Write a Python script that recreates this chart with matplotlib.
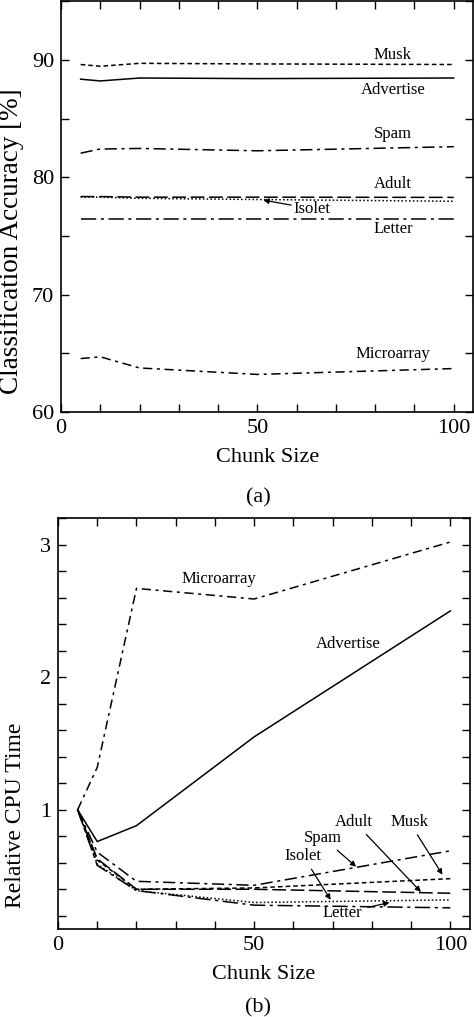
import matplotlib
matplotlib.use("Agg")
import matplotlib.pyplot as plt
from matplotlib.ticker import MultipleLocator

plt.rcParams['font.family'] = ['Liberation Serif', 'DejaVu Serif']
plt.rcParams['mathtext.fontset'] = 'stix'

chunk = [5, 10, 20, 50, 100]

# (a) classification accuracy [%]
accMusk = [89.6, 89.45, 89.7, 89.65, 89.6]
accAdvertise = [88.35, 88.2, 88.45, 88.4, 88.45]
accSpam = [82.05, 82.4, 82.45, 82.25, 82.6]
accAdult = [78.35, 78.35, 78.3, 78.3, 78.28]
accIsolet = [78.3, 78.3, 78.2, 78.1, 77.95]
accLetter = [76.45, 76.45, 76.45, 76.45, 76.45]
accMicroarray = [64.55, 64.7, 63.75, 63.2, 63.7]

# (b) relative CPU time
cpuMicroarray = [1.0, 1.32, 2.67, 2.59, 3.02]
cpuAdvertise = [1.0, 0.76, 0.88, 1.55, 2.50]
cpuSpam = [1.0, 0.68, 0.46, 0.43, 0.69]
cpuMusk = [1.0, 0.62, 0.40, 0.41, 0.48]
cpuAdult = [1.0, 0.63, 0.40, 0.40, 0.37]
cpuIsolet = [1.0, 0.59, 0.39, 0.30, 0.32]
cpuLetter = [1.0, 0.58, 0.39, 0.28, 0.26]

styles = {
    'Musk': (0, (3, 2)),
    'Advertise': '-',
    'Spam': (0, (8, 3, 2, 3)),
    'Adult': (0, (9, 3)),
    'Isolet': (0, (1, 1.5)),
    'Letter': (0, (10, 3, 2, 3)),
    'Microarray': (0, (6, 3, 2, 3)),
}

fig = plt.figure(figsize=(4.74, 10.17), dpi=100)
axA = fig.add_axes([0.1287, 0.5949, 0.870, 0.404])
axB = fig.add_axes([0.1224, 0.0865, 0.869, 0.404])


def styleAxis(ax):
    ax.set_xlim(0, 105)
    ax.xaxis.set_major_locator(MultipleLocator(50))
    ax.xaxis.set_minor_locator(MultipleLocator(10))
    ax.tick_params(which='both', direction='in', top=True, right=True,
                   labelsize=16, width=1.0)
    ax.tick_params(which='major', length=6, pad=5)
    ax.tick_params(which='minor', length=6)
    for s in ax.spines.values():
        s.set_linewidth(1.2)
    ax.set_xlabel('Chunk Size', fontsize=16, labelpad=7)


# ---- (a)
for name, vals in [('Musk', accMusk), ('Advertise', accAdvertise), ('Spam', accSpam),
                   ('Adult', accAdult), ('Isolet', accIsolet), ('Letter', accLetter),
                   ('Microarray', accMicroarray)]:
    axA.plot(chunk, vals, color='black', lw=1.1, linestyle=styles[name])

axA.set_ylim(60, 95)
axA.yaxis.set_major_locator(MultipleLocator(10))
axA.yaxis.set_minor_locator(MultipleLocator(5))
styleAxis(axA)
axA.set_ylabel('Classification Accuracy [%]', fontsize=19.5)
axA.yaxis.set_label_coords(-0.09, 0.416)

fs = 12
axA.text(84.5, 90.4, 'Musk', fontsize=fs, ha='center', va='center')
axA.text(84.5, 87.4, 'Advertise', fontsize=fs, ha='center', va='center')
axA.text(84.5, 83.7, 'Spam', fontsize=fs, ha='center', va='center')
axA.text(84.5, 79.4, 'Adult', fontsize=fs, ha='center', va='center')
axA.annotate('Isolet', xy=(51.5, 78.05), xytext=(64, 77.3), fontsize=fs,
             ha='center', va='center',
             arrowprops=dict(arrowstyle='-|>', color='black', lw=0.9,
                             shrinkA=0, shrinkB=0, mutation_scale=8))
axA.text(84.5, 75.6, 'Letter', fontsize=fs, ha='center', va='center')
axA.text(84.5, 64.9, 'Microarray', fontsize=fs, ha='center', va='center')
fig.text(0.545, 0.510, '(a)', fontsize=16, ha='center', va='center')

# ---- (b)
for name, vals in [('Microarray', cpuMicroarray), ('Advertise', cpuAdvertise),
                   ('Spam', cpuSpam), ('Musk', cpuMusk), ('Adult', cpuAdult),
                   ('Isolet', cpuIsolet), ('Letter', cpuLetter)]:
    axB.plot(chunk, vals, color='black', lw=1.1, linestyle=styles[name])

axB.set_ylim(0.1, 3.2)
axB.yaxis.set_major_locator(MultipleLocator(1))
axB.yaxis.set_minor_locator(MultipleLocator(0.2))
styleAxis(axB)
axB.set_ylabel('Relative CPU Time', fontsize=17)
axB.yaxis.set_label_coords(-0.078, 0.277)

axB.text(41, 2.74, 'Microarray', fontsize=fs, ha='center', va='center')
axB.text(74, 2.25, 'Advertise', fontsize=fs, ha='center', va='center')
arrow = dict(arrowstyle='-|>', color='black', lw=0.9, shrinkA=2, shrinkB=0,
             mutation_scale=8)
axB.annotate('Adult', xy=(92.5, 0.38), xytext=(75.5, 0.91), fontsize=fs,
             ha='center', va='center', arrowprops=arrow)
axB.annotate('Musk', xy=(98, 0.51), xytext=(89.5, 0.91), fontsize=fs,
             ha='center', va='center', arrowprops=arrow)
axB.annotate('Spam', xy=(76, 0.57), xytext=(67.5, 0.79), fontsize=fs,
             ha='center', va='center', arrowprops=arrow)
axB.annotate('Isolet', xy=(69.5, 0.32), xytext=(62.5, 0.65), fontsize=fs,
             ha='center', va='center', arrowprops=arrow)
axB.annotate('Letter', xy=(84.5, 0.30), xytext=(72.5, 0.22), fontsize=fs,
             ha='center', va='center', arrowprops=arrow)
fig.text(0.545, 0.0085, '(b)', fontsize=16, ha='center', va='center')

fig.savefig('out.png', dpi=100)
